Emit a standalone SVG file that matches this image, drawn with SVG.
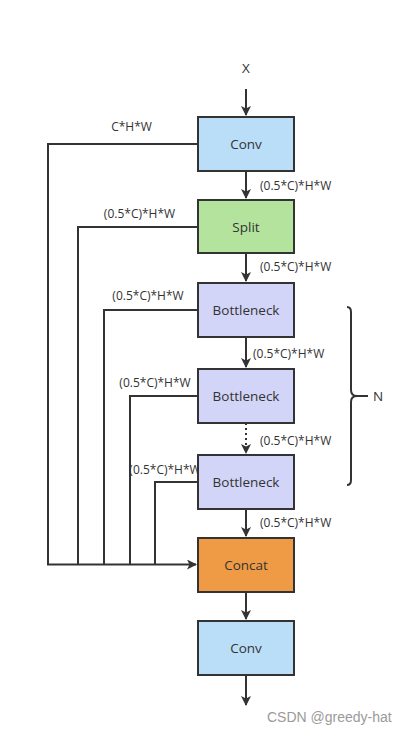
<svg xmlns="http://www.w3.org/2000/svg" width="416" height="736" viewBox="0 0 416 736">
<defs>
<marker id="ah" viewBox="0 0 10 10" refX="9" refY="5" markerWidth="10" markerHeight="10" markerUnits="userSpaceOnUse" orient="auto">
<path d="M0,0 L10,5 L0,10 L2.5,5 Z" fill="#333333"/>
</marker>
<style>
.box{stroke:#333333;stroke-width:2}
.lbl{font-family:"Open Sans","Noto Sans","DejaVu Sans",sans-serif;font-size:13.5px;fill:#333333;text-anchor:middle;dominant-baseline:central}
.dim{font-family:"Open Sans","Noto Sans","DejaVu Sans",sans-serif;font-size:12px;fill:#333333;dominant-baseline:central}
.ln{fill:none;stroke:#333333;stroke-width:2}
</style>
</defs>
<rect width="416" height="736" fill="#ffffff"/>
<g id="connectors">
<path class="ln" d="M246,89 V115" marker-end="url(#ah)"/>
<path class="ln" d="M246,171 V198" marker-end="url(#ah)"/>
<path class="ln" d="M246,254 V281" marker-end="url(#ah)"/>
<path class="ln" d="M246,337 V367" marker-end="url(#ah)"/>
<path class="ln" d="M246,423 V453" stroke-dasharray="2,3" marker-end="url(#ah)"/>
<path class="ln" d="M246,509 V536" marker-end="url(#ah)"/>
<path class="ln" d="M246,592 V619" marker-end="url(#ah)"/>
<path class="ln" d="M246,675 V705" marker-end="url(#ah)"/>
<path class="ln" d="M198,144 H48 V564.5 H196" marker-end="url(#ah)"/>
<path class="ln" d="M198,227 H78 V564.5"/>
<path class="ln" d="M198,310 H104 V564.5"/>
<path class="ln" d="M198,396 H130 V564.5"/>
<path class="ln" d="M198,482 H155 V564.5"/>
<path class="ln" d="M347,307 Q351,307 351,312 V390 Q351,396 357,396 H368 M357,396 Q351,396 351,402 V480 Q351,485 347,485" stroke-width="1.8"/>
<text class="dim" x="131.5" y="126" text-anchor="middle">C*H*W</text>
<text class="dim" x="139.5" y="213" text-anchor="middle">(0.5*C)*H*W</text>
<text class="dim" x="148" y="295" text-anchor="middle">(0.5*C)*H*W</text>
<text class="dim" x="155" y="382" text-anchor="middle">(0.5*C)*H*W</text>
<text class="dim" x="165" y="469" text-anchor="middle">(0.5*C)*H*W</text>
<text class="dim" x="260" y="185">(0.5*C)*H*W</text>
<text class="dim" x="260" y="266">(0.5*C)*H*W</text>
<text class="dim" x="253" y="353">(0.5*C)*H*W</text>
<text class="dim" x="260" y="440">(0.5*C)*H*W</text>
<text class="dim" x="260" y="522">(0.5*C)*H*W</text>
</g>
<g id="input"><text class="lbl" x="246" y="68">X</text></g>
<g id="conv1"><rect class="box" x="198" y="117" width="96" height="54" fill="#BBDEF8"/><text class="lbl" x="246" y="144">Conv</text></g>
<g id="split"><rect class="box" x="198" y="200" width="96" height="53" fill="#B3E39C"/><text class="lbl" x="246" y="227">Split</text></g>
<g id="bottleneck1"><rect class="box" x="198" y="283" width="96" height="54" fill="#D2D5F7"/><text class="lbl" x="246" y="310">Bottleneck</text></g>
<g id="bottleneck2"><rect class="box" x="198" y="369" width="96" height="54" fill="#D2D5F7"/><text class="lbl" x="246" y="396">Bottleneck</text></g>
<g id="bottleneck3"><rect class="box" x="198" y="455" width="96" height="54" fill="#D2D5F7"/><text class="lbl" x="246" y="482">Bottleneck</text></g>
<g id="concat"><rect class="box" x="198" y="538" width="96" height="54" fill="#EF9B45"/><text class="lbl" x="246" y="565">Concat</text></g>
<g id="conv2"><rect class="box" x="198" y="621" width="96" height="54" fill="#BBDEF8"/><text class="lbl" x="246" y="648">Conv</text></g>
<g id="n-label"><text class="lbl" x="378" y="396">N</text></g>
<g id="watermark"><text x="267" y="717" font-family="'Liberation Sans',Arial,sans-serif" font-size="14" fill="#9a9a9a" dominant-baseline="central">CSDN @greedy-hat</text></g>
</svg>
